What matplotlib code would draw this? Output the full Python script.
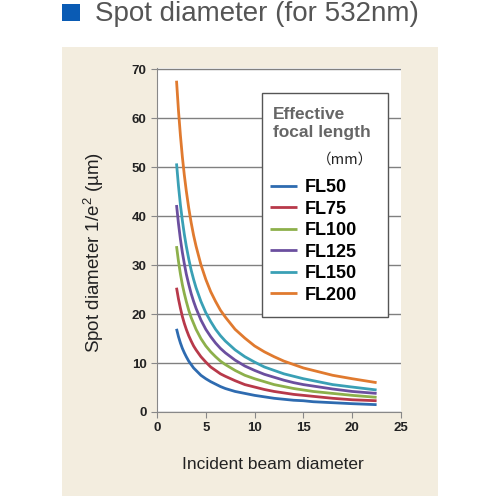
import matplotlib
matplotlib.use("Agg")
import matplotlib.pyplot as plt
from matplotlib.patches import Rectangle

# incident beam diameter (x) and spot diameter values
beam = [2, 2.2, 2.4, 2.6, 2.8, 3, 3.25, 3.5, 3.75, 4, 4.5, 5, 5.5, 6, 6.5, 7,
        8, 9, 10, 11, 12, 13, 14, 15, 16, 18, 20, 22.5]

fl50 = [17.0, 15.4, 14.1, 13.0, 12.1, 11.3, 10.4, 9.7, 9.0, 8.5, 7.5, 6.8, 6.2, 5.7, 5.2, 4.8,
        4.2, 3.8, 3.4, 3.1, 2.8, 2.6, 2.4, 2.3, 2.1, 1.9, 1.7, 1.5]
fl75 = [25.4, 23.1, 21.2, 19.5, 18.1, 16.9, 15.6, 14.5, 13.5, 12.7, 11.3, 10.2, 9.2, 8.5, 7.8, 7.3,
        6.4, 5.6, 5.1, 4.6, 4.2, 3.9, 3.6, 3.4, 3.2, 2.8, 2.5, 2.3]
fl100 = [33.9, 30.8, 28.2, 26.0, 24.2, 22.6, 20.8, 19.3, 18.1, 16.9, 15.0, 13.5, 12.3, 11.3, 10.4, 9.7,
         8.5, 7.5, 6.8, 6.2, 5.6, 5.2, 4.8, 4.5, 4.2, 3.8, 3.4, 3.0]
fl125 = [42.3, 38.5, 35.3, 32.6, 30.3, 28.2, 26.1, 24.2, 22.6, 21.2, 18.8, 16.9, 15.4, 14.1, 13.0, 12.1,
         10.6, 9.4, 8.5, 7.7, 7.1, 6.5, 6.0, 5.6, 5.3, 4.7, 4.2, 3.8]
fl150 = [50.8, 46.2, 42.3, 39.1, 36.3, 33.9, 31.3, 29.0, 27.1, 25.4, 22.6, 20.3, 18.5, 16.9, 15.6, 14.5,
         12.7, 11.3, 10.2, 9.2, 8.5, 7.8, 7.3, 6.8, 6.4, 5.6, 5.1, 4.5]
fl200 = [67.7, 61.6, 56.5, 52.1, 48.4, 45.2, 41.7, 38.7, 36.1, 33.9, 30.1, 27.1, 24.6, 22.6, 20.8, 19.4,
         16.9, 15.1, 13.5, 12.3, 11.3, 10.4, 9.7, 9.0, 8.5, 7.5, 6.8, 6.0]

labels = ["FL50", "FL75", "FL100", "FL125", "FL150", "FL200"]
series = [fl50, fl75, fl100, fl125, fl150, fl200]
colors = ["#2e6bb0", "#b8394a", "#8db04b", "#6b4f9f", "#3aa0b5", "#e07a2f"]

plt.rcParams["font.family"] = ["Liberation Sans", "DejaVu Sans"]

fig = plt.figure(figsize=(5, 5), dpi=100)

# beige panel behind the chart
fig.patches.append(Rectangle((0.124, 0.008), 0.752, 0.898, transform=fig.transFigure,
                             facecolor="#f3eddf", edgecolor="none", zorder=-1))

# heading
fig.patches.append(Rectangle((0.124, 0.958), 0.036, 0.034, transform=fig.transFigure,
                             facecolor="#0a5bb4", edgecolor="none"))
fig.text(0.19, 0.958, "Spot diameter (for 532nm)", fontsize=20, color="#555555",
         va="baseline", ha="left")

ax = fig.add_axes([0.314, 0.176, 0.488, 0.688])
ax.set_facecolor("white")

for ys, lab, c in zip(series, labels, colors):
    ax.plot(beam, ys, color=c, lw=2.0, label=lab, solid_capstyle="butt")

ax.set_xlim(0, 25)
ax.set_ylim(0, 70.3)
ax.set_xticks(range(0, 26, 5))
ax.set_yticks(range(0, 71, 10))
ax.yaxis.grid(True, color="#808080", lw=1)
ax.set_axisbelow(True)
for s in ["top", "right"]:
    ax.spines[s].set_visible(False)
for s in ["left", "bottom"]:
    ax.spines[s].set_color("#888888")
ax.tick_params(colors="#888888", length=4, labelcolor="#222222", labelsize=9.5)
for t in ax.get_xticklabels() + ax.get_yticklabels():
    t.set_fontweight("bold")

ax.set_xlabel("Incident beam diameter", fontsize=12.5, color="#222222")
ax.xaxis.set_label_coords(0.475, -0.131)
ax.set_ylabel(r"Spot diameter $\mathregular{1/e^2}$ (µm)", fontsize=13.5, color="#222222")
ax.yaxis.set_label_coords(-0.21, 0.465)

# legend box drawn by hand so its size matches the reference
ax.add_patch(Rectangle((0.43, 0.276), 0.517, 0.651, transform=ax.transAxes,
                       facecolor="white", edgecolor="#555555", lw=1.0, zorder=3))
ax.text(0.475, 0.887, "Effective\nfocal length", transform=ax.transAxes, fontsize=12.5,
        fontweight="bold", color="#666666", ha="left", va="top", linespacing=1.27,
        zorder=5)
ax.text(0.885, 0.735, "（mm）", transform=ax.transAxes, fontsize=10.5, ha="right",
        va="center", color="#222222", zorder=5,
        family=["Noto Sans CJK JP", "DejaVu Sans"])
leg = ax.legend(loc="upper left", bbox_to_anchor=(0.463, 0.677), frameon=False,
                prop={"size": 13, "weight": "bold"}, handlelength=1.5,
                handletextpad=0.4, labelspacing=0.25, borderpad=0.0,
                borderaxespad=0.0)
leg.set_zorder(5)

fig.savefig("out.png", dpi=100)
